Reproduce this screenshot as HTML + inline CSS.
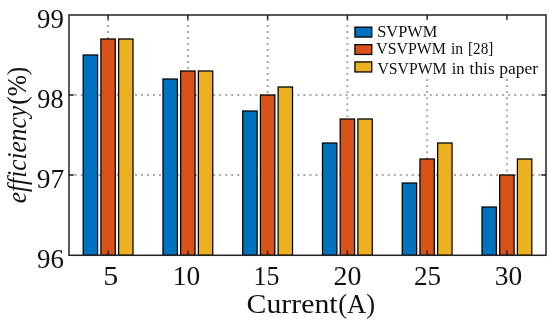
<!DOCTYPE html><html><head><meta charset="utf-8"><style>html,body{margin:0;padding:0;background:#fff;}svg{display:block;}text{font-family:"Liberation Serif",serif;fill:#111;font-kerning:none;}</style></head><body>
<svg width="550" height="322" viewBox="0 0 550 322">
<rect x="0" y="0" width="550" height="322" fill="#fff"/>
<g stroke="#aaaaaa" stroke-width="2" stroke-dasharray="2 4.02" fill="none"><line x1="69.0" y1="95.0" x2="546.0" y2="95.0" stroke-dashoffset="0.32"/><line x1="69.0" y1="175.0" x2="546.0" y2="175.0" stroke-dashoffset="0.32"/><line x1="108.10" y1="15.0" x2="108.10" y2="255.3" stroke-dashoffset="2.14"/><line x1="187.86" y1="15.0" x2="187.86" y2="255.3" stroke-dashoffset="2.14"/><line x1="267.62" y1="15.0" x2="267.62" y2="255.3" stroke-dashoffset="2.14"/><line x1="347.38" y1="15.0" x2="347.38" y2="255.3" stroke-dashoffset="2.14"/><line x1="427.14" y1="15.0" x2="427.14" y2="255.3" stroke-dashoffset="2.14"/><line x1="506.90" y1="15.0" x2="506.90" y2="255.3" stroke-dashoffset="2.14"/></g>
<g stroke="#000" stroke-width="1.25"><rect x="83.20" y="55.00" width="14.4" height="200.30" fill="#0072BD"/><rect x="100.90" y="39.00" width="14.4" height="216.30" fill="#D95319"/><rect x="118.60" y="39.00" width="14.4" height="216.30" fill="#EDB120"/><rect x="162.96" y="79.00" width="14.4" height="176.30" fill="#0072BD"/><rect x="180.66" y="71.00" width="14.4" height="184.30" fill="#D95319"/><rect x="198.36" y="71.00" width="14.4" height="184.30" fill="#EDB120"/><rect x="242.72" y="111.00" width="14.4" height="144.30" fill="#0072BD"/><rect x="260.42" y="95.00" width="14.4" height="160.30" fill="#D95319"/><rect x="278.12" y="87.00" width="14.4" height="168.30" fill="#EDB120"/><rect x="322.48" y="143.00" width="14.4" height="112.30" fill="#0072BD"/><rect x="340.18" y="119.00" width="14.4" height="136.30" fill="#D95319"/><rect x="357.88" y="119.00" width="14.4" height="136.30" fill="#EDB120"/><rect x="402.24" y="183.00" width="14.4" height="72.30" fill="#0072BD"/><rect x="419.94" y="159.00" width="14.4" height="96.30" fill="#D95319"/><rect x="437.64" y="143.00" width="14.4" height="112.30" fill="#EDB120"/><rect x="482.00" y="207.00" width="14.4" height="48.30" fill="#0072BD"/><rect x="499.70" y="175.00" width="14.4" height="80.30" fill="#D95319"/><rect x="517.40" y="159.00" width="14.4" height="96.30" fill="#EDB120"/></g>
<rect x="349" y="20" width="195" height="57" fill="#fff"/>
<rect x="354.95" y="27.15" width="16.80" height="9.90" fill="#0072BD" stroke="#000" stroke-width="1.3"/>
<rect x="354.95" y="44.65" width="16.80" height="9.80" fill="#D95319" stroke="#000" stroke-width="1.3"/>
<rect x="354.95" y="61.95" width="16.80" height="10.00" fill="#EDB120" stroke="#000" stroke-width="1.3"/>
<text x="377.20" y="36.7" font-size="16.5" textLength="60.08" lengthAdjust="spacingAndGlyphs">SVPWM</text>
<text x="376.32" y="53.8" font-size="16.5" textLength="69.64" lengthAdjust="spacingAndGlyphs">VSVPWM</text>
<text x="450.97" y="53.8" font-size="16.5" textLength="12.17" lengthAdjust="spacingAndGlyphs">in</text>
<text x="467.97" y="53.8" font-size="16.5" textLength="25.36" lengthAdjust="spacingAndGlyphs">[28]</text>
<text x="377.52" y="74.2" font-size="16.5" textLength="68.94" lengthAdjust="spacingAndGlyphs">VSVPWM</text>
<text x="451.75" y="74.2" font-size="16.5" textLength="12.79" lengthAdjust="spacingAndGlyphs">in</text>
<text x="469.63" y="74.2" font-size="16.5" textLength="24.99" lengthAdjust="spacingAndGlyphs">this</text>
<text x="499.22" y="74.2" font-size="16.5" textLength="38.94" lengthAdjust="spacingAndGlyphs">paper</text>
<g stroke="#222222" stroke-width="1.5" fill="none"><line x1="69.0" y1="95.0" x2="73.8" y2="95.0"/><line x1="546.0" y1="95.0" x2="541.2" y2="95.0"/><line x1="69.0" y1="175.0" x2="73.8" y2="175.0"/><line x1="546.0" y1="175.0" x2="541.2" y2="175.0"/><line x1="108.10" y1="255.3" x2="108.10" y2="250.5"/><line x1="108.10" y1="15.0" x2="108.10" y2="19.6"/><line x1="187.86" y1="255.3" x2="187.86" y2="250.5"/><line x1="187.86" y1="15.0" x2="187.86" y2="19.6"/><line x1="267.62" y1="255.3" x2="267.62" y2="250.5"/><line x1="267.62" y1="15.0" x2="267.62" y2="19.6"/><line x1="347.38" y1="255.3" x2="347.38" y2="250.5"/><line x1="347.38" y1="15.0" x2="347.38" y2="19.6"/><line x1="427.14" y1="255.3" x2="427.14" y2="250.5"/><line x1="427.14" y1="15.0" x2="427.14" y2="19.6"/><line x1="506.90" y1="255.3" x2="506.90" y2="250.5"/><line x1="506.90" y1="15.0" x2="506.90" y2="19.6"/><rect x="69.0" y="15.0" width="477.0" height="240.3" fill="none"/></g>
<text x="37.03" y="27.6" font-size="27.3" textLength="26.87" lengthAdjust="spacingAndGlyphs">99</text>
<text x="37.35" y="107.6" font-size="27.3" textLength="26.25" lengthAdjust="spacingAndGlyphs">98</text>
<text x="36.81" y="187.6" font-size="27.3" textLength="27.48" lengthAdjust="spacingAndGlyphs">97</text>
<text x="37.03" y="267.6" font-size="27.3" textLength="26.87" lengthAdjust="spacingAndGlyphs">96</text>
<text x="103.35" y="284.7" font-size="27.3" textLength="15.02" lengthAdjust="spacingAndGlyphs">5</text>
<text x="172.69" y="284.7" font-size="27.3" textLength="27.46" lengthAdjust="spacingAndGlyphs">10</text>
<text x="253.52" y="284.7" font-size="27.3" textLength="25.89" lengthAdjust="spacingAndGlyphs">15</text>
<text x="333.47" y="284.7" font-size="27.3" textLength="27.89" lengthAdjust="spacingAndGlyphs">20</text>
<text x="413.91" y="284.7" font-size="27.3" textLength="27.15" lengthAdjust="spacingAndGlyphs">25</text>
<text x="494.79" y="284.7" font-size="27.3" textLength="27.46" lengthAdjust="spacingAndGlyphs">30</text>
<text x="246.58" y="312.6" font-size="27.2" textLength="91.00" lengthAdjust="spacingAndGlyphs">Current</text>
<text x="338.23" y="312.6" font-size="27.2" textLength="36.94" lengthAdjust="spacingAndGlyphs">(A)</text>
<text transform="translate(25.8,202.40) rotate(-90)" x="-0.78" y="0" font-size="26.3" font-style="italic" textLength="97.07" lengthAdjust="spacingAndGlyphs">efficiency</text>
<text transform="translate(25.8,103.70) rotate(-90)" x="-1.12" y="0" font-size="27.3" textLength="38.14" lengthAdjust="spacingAndGlyphs">(%)</text>
</svg></body></html>
